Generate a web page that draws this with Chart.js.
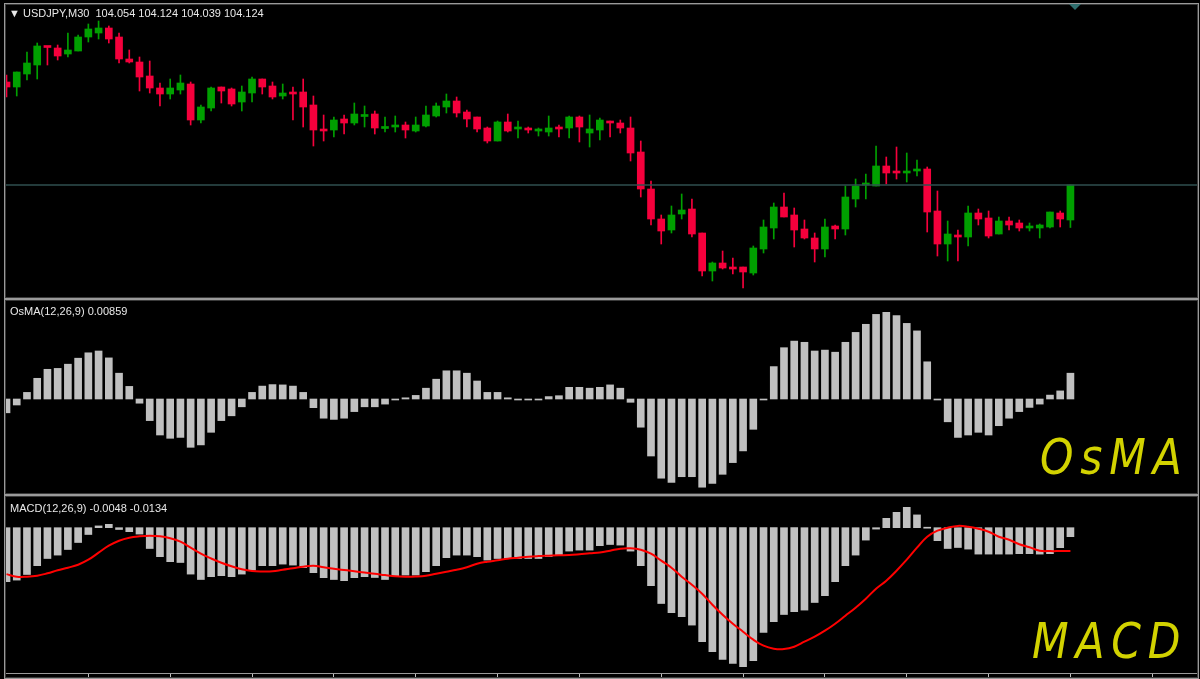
<!DOCTYPE html>
<html><head><meta charset="utf-8">
<script src="https://cdn.jsdelivr.net/npm/chart.js@4.4.1/dist/chart.umd.min.js"></script>
<style>
html,body{margin:0;padding:0;background:#000;width:1200px;height:679px;overflow:hidden;font-family:"Liberation Sans",Arial,sans-serif}
.box{position:absolute;border:1px solid #9a9a9a;box-shadow:inset 0 0 0 1px #3a3a3a}
.pane{position:absolute;left:6px;width:1191px}
.lbl{position:absolute;color:#e8e8e8;font-size:11px;white-space:pre}
.big{position:absolute;color:#d2d200;font-size:50px;font-style:italic;letter-spacing:8px;font-family:"DejaVu Sans",sans-serif;font-weight:200;transform:scaleX(0.85);transform-origin:left}
</style></head><body>
<div class="box" style="left:4px;top:3px;width:1193px;height:294px"></div>
<div class="box" style="left:4px;top:299px;width:1193px;height:194px"></div>
<div class="box" style="left:4px;top:495px;width:1193px;height:182px"></div>
<div class="pane" style="top:6px;height:292px"><canvas id="c1" width="1191" height="292"></canvas></div>
<div class="pane" style="top:302px;height:191px"><canvas id="c2" width="1191" height="191"></canvas></div>
<div class="pane" style="top:497px;height:180px"><canvas id="c3" width="1191" height="180"></canvas></div>
<div style="position:absolute;left:1069px;top:4px;width:0;height:0;border-left:6px solid transparent;border-right:6px solid transparent;border-top:6px solid #2f6f6f"></div>
<div class="lbl" style="left:9px;top:7px">▼ USDJPY,M30  104.054 104.124 104.039 104.124</div>
<div class="lbl" style="left:10px;top:305px">OsMA(12,26,9) 0.00859</div>
<div class="lbl" style="left:10px;top:502px">MACD(12,26,9) -0.0048 -0.0134</div>
<div class="big" style="left:1040px;top:428px">OsMA</div>
<div class="big" style="left:1032px;top:612px">MACD</div>
<script>
const openP=[104.330,104.320,104.346,104.364,104.400,104.398,104.386,104.392,104.420,104.428,
104.438,104.420,104.376,104.370,104.342,104.318,104.306,104.314,104.326,104.254,
104.278,104.320,104.316,104.290,104.308,104.336,104.322,104.302,104.310,104.310,
104.284,104.236,104.234,104.256,104.248,104.261,104.266,104.237,104.240,104.244,
104.232,104.242,104.262,104.280,104.292,104.270,104.260,104.238,104.212,104.250,
104.236,104.238,104.232,104.230,104.238,104.238,104.260,104.228,104.234,104.252,
104.248,104.238,104.190,104.116,104.056,104.034,104.066,104.076,104.028,103.952,
103.968,103.958,103.960,103.948,103.996,104.038,104.080,104.064,104.036,104.018,
103.996,104.042,104.036,104.096,104.124,104.122,104.162,104.152,104.148,104.152,
104.156,104.072,104.006,104.024,104.020,104.068,104.058,104.026,104.052,104.048,
104.038,104.038,104.040,104.068,104.054];
const highP=[104.344,104.350,104.390,104.408,104.401,104.404,104.428,104.424,104.446,104.452,
104.442,104.428,104.394,104.380,104.372,104.328,104.336,104.344,104.330,104.284,
104.320,104.320,104.318,104.322,104.340,104.336,104.330,104.326,104.320,104.336,
104.302,104.264,104.260,104.264,104.288,104.282,104.272,104.260,104.262,104.250,
104.260,104.282,104.288,104.306,104.300,104.274,104.260,104.240,104.252,104.266,
104.252,104.240,104.238,104.262,104.244,104.262,104.262,104.264,104.258,104.252,
104.254,104.260,104.212,104.132,104.064,104.082,104.106,104.096,104.028,103.970,
103.992,103.978,103.960,104.002,104.054,104.088,104.108,104.078,104.054,104.028,
104.056,104.044,104.122,104.136,104.146,104.202,104.180,104.200,104.188,104.174,
104.160,104.112,104.052,104.034,104.082,104.076,104.072,104.060,104.060,104.054,
104.048,104.046,104.070,104.072,104.124];
const lowP=[104.300,104.302,104.334,104.336,104.364,104.374,104.380,104.392,104.410,104.416,
104.408,104.368,104.368,104.312,104.308,104.282,104.296,104.306,104.244,104.248,
104.272,104.288,104.282,104.272,104.290,104.306,104.296,104.296,104.254,104.240,
104.202,104.212,104.220,104.226,104.244,104.240,104.226,104.230,104.230,104.218,
104.230,104.240,104.260,104.268,104.260,104.240,104.230,104.208,104.212,104.230,
104.218,104.228,104.222,104.222,104.220,104.218,104.210,104.200,104.214,104.220,
104.228,104.172,104.100,104.044,104.006,104.028,104.056,104.020,103.942,103.932,
103.956,103.946,103.918,103.944,103.988,104.016,104.060,104.000,104.016,103.970,
103.980,104.016,104.024,104.080,104.096,104.122,104.126,104.136,104.130,104.142,
104.030,103.982,103.972,103.972,104.002,104.044,104.018,104.026,104.034,104.032,
104.032,104.018,104.038,104.040,104.039];
const closeP=[104.320,104.350,104.368,104.402,104.399,104.382,104.394,104.420,104.436,104.438,
104.416,104.376,104.370,104.340,104.318,104.306,104.318,104.328,104.254,104.280,
104.318,104.312,104.286,104.310,104.336,104.320,104.300,104.308,104.306,104.280,
104.234,104.232,104.254,104.248,104.266,104.262,104.238,104.238,104.242,104.234,
104.244,104.264,104.282,104.292,104.268,104.256,104.236,104.212,104.250,104.232,
104.238,104.234,104.236,104.238,104.236,104.260,104.240,104.236,104.254,104.248,
104.238,104.188,104.116,104.056,104.032,104.064,104.074,104.026,103.952,103.968,
103.958,103.956,103.950,103.998,104.040,104.080,104.060,104.034,104.018,103.996,
104.040,104.036,104.100,104.122,104.126,104.162,104.148,104.148,104.150,104.156,
104.070,104.006,104.026,104.020,104.068,104.056,104.022,104.052,104.044,104.038,
104.042,104.044,104.070,104.056,104.124];
const bidPrice=104.124;
const osma=[-0.0046,-0.0020,0.0022,0.0069,0.0099,0.0102,0.0116,0.0136,0.0154,0.0160,
0.0137,0.0086,0.0042,-0.0014,-0.0072,-0.0120,-0.0131,-0.0128,-0.0161,-0.0153,
-0.0111,-0.0072,-0.0056,-0.0026,0.0022,0.0043,0.0048,0.0047,0.0043,0.0022,
-0.0029,-0.0064,-0.0068,-0.0064,-0.0042,-0.0026,-0.0026,-0.0017,-0.0003,0.0004,
0.0012,0.0036,0.0066,0.0094,0.0094,0.0086,0.0060,0.0022,0.0022,0.0004,
-0.0003,-0.0003,-0.0003,0.0008,0.0011,0.0039,0.0039,0.0036,0.0039,0.0047,
0.0036,-0.0011,-0.0094,-0.0190,-0.0264,-0.0278,-0.0259,-0.0259,-0.0294,-0.0281,
-0.0251,-0.0212,-0.0173,-0.0101,-0.0003,0.0108,0.0171,0.0193,0.0189,0.0160,
0.0163,0.0156,0.0189,0.0222,0.0249,0.0282,0.0289,0.0278,0.0252,0.0227,
0.0124,-0.0003,-0.0076,-0.0128,-0.0120,-0.0111,-0.0120,-0.0089,-0.0064,-0.0042,
-0.0028,-0.0017,0.0013,0.0027,0.0086];
const macd=[-0.0270,-0.0262,-0.0234,-0.0190,-0.0154,-0.0137,-0.0109,-0.0074,-0.0034,0.0009,
0.0017,-0.0009,-0.0020,-0.0032,-0.0104,-0.0145,-0.0170,-0.0174,-0.0232,-0.0259,
-0.0245,-0.0240,-0.0245,-0.0232,-0.0212,-0.0190,-0.0190,-0.0182,-0.0187,-0.0200,
-0.0225,-0.0250,-0.0259,-0.0265,-0.0250,-0.0245,-0.0249,-0.0259,-0.0242,-0.0237,
-0.0237,-0.0220,-0.0190,-0.0150,-0.0137,-0.0137,-0.0145,-0.0162,-0.0154,-0.0154,
-0.0154,-0.0154,-0.0154,-0.0145,-0.0137,-0.0117,-0.0112,-0.0112,-0.0090,-0.0084,
-0.0087,-0.0117,-0.0190,-0.0290,-0.0379,-0.0425,-0.0445,-0.0487,-0.0570,-0.0620,
-0.0659,-0.0679,-0.0695,-0.0665,-0.0524,-0.0470,-0.0434,-0.0420,-0.0412,-0.0374,
-0.0340,-0.0270,-0.0190,-0.0137,-0.0062,-0.0007,0.0047,0.0077,0.0102,0.0064,
0.0000,-0.0065,-0.0104,-0.0099,-0.0107,-0.0132,-0.0132,-0.0132,-0.0132,-0.0130,
-0.0130,-0.0132,-0.0130,-0.0100,-0.0045];
const signal=[-0.0232,-0.0245,-0.0245,-0.0240,-0.0228,-0.0213,-0.0200,-0.0185,-0.0160,-0.0125,
-0.0090,-0.0065,-0.0050,-0.0043,-0.0040,-0.0043,-0.0053,-0.0070,-0.0100,-0.0130,
-0.0154,-0.0175,-0.0193,-0.0208,-0.0217,-0.0219,-0.0218,-0.0210,-0.0203,-0.0195,
-0.0190,-0.0198,-0.0205,-0.0212,-0.0218,-0.0224,-0.0230,-0.0237,-0.0243,-0.0245,
-0.0244,-0.0240,-0.0230,-0.0220,-0.0210,-0.0198,-0.0180,-0.0170,-0.0163,-0.0155,
-0.0150,-0.0145,-0.0142,-0.0140,-0.0138,-0.0137,-0.0133,-0.0128,-0.0124,-0.0115,
-0.0105,-0.0103,-0.0110,-0.0130,-0.0165,-0.0200,-0.0245,-0.0285,-0.0330,-0.0385,
-0.0435,-0.0480,-0.0520,-0.0560,-0.0590,-0.0605,-0.0607,-0.0595,-0.0570,-0.0545,
-0.0515,-0.0480,-0.0440,-0.0400,-0.0355,-0.0305,-0.0265,-0.0215,-0.0160,-0.0100,
-0.0045,-0.0015,0.0000,0.0009,0.0005,-0.0005,-0.0020,-0.0045,-0.0060,-0.0083,
-0.0098,-0.0115,-0.0117,-0.0117,-0.0117];

const N=openP.length, idx=[...Array(N).keys()];
const XMIN=-0.05, XMAX=-0.05+1191/10.23;
const GREEN='#00a000', RED='#f5003c', SILVER='#c0c0c0';
const col=i=>closeP[i]>=openP[i]?GREEN:RED;
const xHidden={type:'linear',min:XMIN,max:XMAX,offset:false,display:false};
const base={responsive:false,animation:false,events:[],layout:{padding:0},
  plugins:{legend:{display:false},tooltip:{enabled:false}}};

new Chart(document.getElementById('c1'),{type:'bar',data:{datasets:[
 {type:'line',data:[{x:XMIN,y:bidPrice},{x:XMAX,y:bidPrice}],borderColor:'#2f4f4f',borderWidth:1.5,pointRadius:0},
 {data:idx.map(i=>({x:i,y:[lowP[i],highP[i]]})),backgroundColor:c=>col(c.dataIndex),barThickness:1,grouped:false,minBarLength:1},
 {data:idx.map(i=>({x:i,y:[openP[i],closeP[i]]})),backgroundColor:c=>col(c.dataIndex),barThickness:7,grouped:false,minBarLength:2}
]},options:{...base,scales:{x:xHidden,y:{min:103.898,max:104.482,display:false}}}});

new Chart(document.getElementById('c2'),{type:'bar',data:{datasets:[
 {data:idx.map(i=>({x:i,y:osma[i]})),backgroundColor:SILVER,barThickness:7,minBarLength:1}
]},options:{...base,scales:{x:xHidden,y:{min:-0.03133,max:0.03233,display:false}}}});

new Chart(document.getElementById('c3'),{type:'bar',data:{datasets:[
 {type:'line',data:idx.map(i=>({x:i,y:signal[i]})),borderColor:'#ff0000',borderWidth:2,pointRadius:0,tension:0.4},
 {data:idx.map(i=>({x:i,y:macd[i]})),backgroundColor:SILVER,barThickness:7,minBarLength:1}
]},options:{...base,scales:{
 x:{type:'linear',min:XMIN,max:XMAX,offset:false,position:'bottom',
    afterBuildTicks:a=>{a.ticks=[];for(let v=8;v<XMAX;v+=8)a.ticks.push({value:v});},
    ticks:{display:false},border:{display:true,color:'#9a9a9a'},
    grid:{drawOnChartArea:false,drawTicks:true,tickLength:4,color:'#c0c0c0',offset:false}},
 y:{min:-0.07265,max:0.01535,display:false}}}});
</script></body></html>
